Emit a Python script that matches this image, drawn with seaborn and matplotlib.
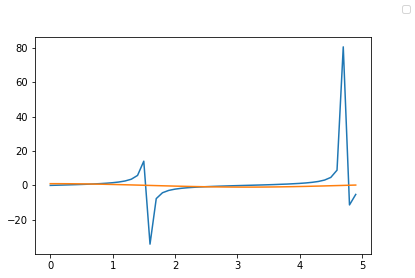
import matplotlib
matplotlib.use("Agg")
import matplotlib.pyplot as plt
import seaborn as sns
import pandas as pd

x = [0.0, 0.1, 0.2, 0.3, 0.4, 0.5, 0.6, 0.7, 0.8, 0.9,
     1.0, 1.1, 1.2, 1.3, 1.4, 1.5, 1.6, 1.7, 1.8, 1.9,
     2.0, 2.1, 2.2, 2.3, 2.4, 2.5, 2.6, 2.7, 2.8, 2.9,
     3.0, 3.1, 3.2, 3.3, 3.4, 3.5, 3.6, 3.7, 3.8, 3.9,
     4.0, 4.1, 4.2, 4.3, 4.4, 4.5, 4.6, 4.7, 4.8, 4.9]

tan_vals = [0.00, 0.10, 0.20, 0.31, 0.42, 0.55, 0.68, 0.84, 1.03, 1.26,
            1.56, 1.96, 2.57, 3.60, 5.80, 14.10, -34.23, -7.70, -4.29, -2.93,
            -2.19, -1.71, -1.37, -1.12, -0.92, -0.75, -0.60, -0.47, -0.36, -0.24,
            -0.14, -0.04, 0.06, 0.16, 0.26, 0.37, 0.49, 0.64, 0.77, 0.96,
            1.16, 1.42, 1.78, 2.28, 3.10, 4.64, 8.86, 80.71, -11.38, -5.27]

cos_vals = [1.00, 1.00, 0.98, 0.96, 0.92, 0.88, 0.83, 0.76, 0.70, 0.62,
            0.54, 0.45, 0.36, 0.27, 0.17, 0.07, -0.03, -0.13, -0.23, -0.32,
            -0.42, -0.50, -0.59, -0.67, -0.74, -0.80, -0.86, -0.90, -0.94, -0.97,
            -0.99, -1.00, -1.00, -0.99, -0.97, -0.94, -0.90, -0.85, -0.79, -0.73,
            -0.65, -0.58, -0.49, -0.40, -0.31, -0.21, -0.11, -0.01, 0.09, 0.19]

df = pd.DataFrame({"x": x, "tan": tan_vals, "cos": cos_vals})

plt.rcParams["font.family"] = ["DejaVu Sans"]
plt.rcParams["font.size"] = 10

fig = plt.figure(figsize=(415 / 72, 278 / 72), dpi=72)
ax = fig.add_axes([35 / 415, 24 / 278, 336 / 415, 217 / 278])

sns.lineplot(data=df, x="x", y="tan", ax=ax, color="#1f77b4", linewidth=1.5)
sns.lineplot(data=df, x="x", y="cos", ax=ax, color="#ff7f0e", linewidth=1.5)

ax.set_xlabel("")
ax.set_ylabel("")
ax.tick_params(labelsize=10)

fig.legend(handles=[], labels=[], loc="upper right")

fig.savefig("out.png", dpi=72)
